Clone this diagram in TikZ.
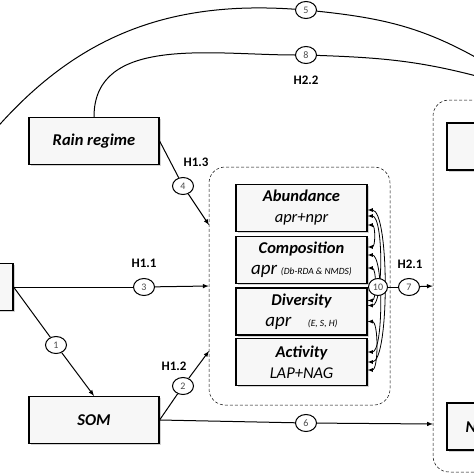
\documentclass[tikz,border=0pt]{standalone}
\usepackage{fontspec}
\setmainfont{Carlito}
\usetikzlibrary{arrows,shapes.geometric,shadows}

\begin{document}
\begin{tikzpicture}[x=1pt,y=1pt,
  box/.style={draw,line width=1.2pt,fill=gray!6,minimum width=130pt,minimum height=47pt,
    inner sep=1pt,align=center,font=\fontsize{16.5}{21}\selectfont\itshape,
    drop shadow={shadow xshift=1.5pt,shadow yshift=-1.5pt,opacity=0.35}},
  num/.style={ellipse,draw,line width=1pt,fill=white,minimum width=21pt,minimum height=17pt,
    inner sep=0pt,font=\fontsize{10}{10}\selectfont,text=black!70},
  hyp/.style={font=\fontsize{13}{13}\selectfont\bfseries},
  group/.style={draw,densely dashed,line width=0.5pt,rounded corners=16pt},
  link/.style={line width=1pt},
  corr/.style={<->,>=latex,line width=0.8pt}]
\useasboundingbox (0,0) rectangle (474,-474);
\clip (0,0) rectangle (474,-474);

% dashed groups
\node[group,minimum width=181pt,minimum height=238pt] (Mid) at (299.5,-286) {};
\node[group,minimum width=140pt,minimum height=372pt] (Out) at (503,-286) {};

% boxes
\node[box] (Rain) at (94,-141) {\textbf{Rain regime}};
\node[box] (Left) at (-52,-287) {};
\node[box] (SOM) at (94,-420) {\textbf{SOM}};

\node[box,minimum width=131pt] (Ab) at (301.5,-208) {\textbf{Abundance}\\apr+npr};
\node[box,minimum width=131pt] (Co) at (301.5,-260) {\textbf{Composition}\\{\fontsize{19}{19}\selectfont apr} {\fontsize{9.5}{9.5}\selectfont (Db-RDA \& NMDS)}};
\node[box,minimum width=131pt] (Di) at (301.5,-311.5) {\textbf{Diversity}\\{\fontsize{19}{19}\selectfont apr}\quad{\fontsize{9.5}{9.5}\selectfont (E, S, H)}};
\node[box,minimum width=131pt] (Act) at (301.5,-362) {\textbf{Activity}\\LAP+NAG};

\node[box] (Top) at (512,-146.5) {};
\node[box] (Bot) at (512,-426.5) {};
\node[font=\fontsize{16.5}{21}\selectfont\bfseries\itshape,anchor=west] at (462,-427) {N};

% numbered paths
\node[num] (c1) at (56,-345) {1};
\node[num] (c2) at (183,-386) {2};
\node[num] (c3) at (144,-287) {3};
\node[num] (c4) at (183,-186) {4};
\node[num] (c5) at (306,-10) {5};
\node[num] (c6) at (306,-423) {6};
\node[num] (c7) at (409,-287) {7};
\node[num] (c8) at (306,-55) {8};

\coordinate (m1) at (209,-225);
\coordinate (m2) at (209,-351);
\coordinate (o6) at (433,-424);
\coordinate (s5) at (-12,-138);
\coordinate (e5) at (484,-62);
\coordinate (e8) at (484,-78);

\draw[link] (Left.east) -- (c3);
\draw[link] (Left.east) -- (c1);
\draw[link] (Rain.east) -- (c4);
\draw[link] (SOM.east) -- (c2);
\draw[link] (SOM.east) -- (c6);

\path[->,>=latex,link] (c3) edge (Mid.west);
\path[->,>=latex,link] (c1) edge (SOM.north);
\path[->,>=latex,link] (c4) edge (m1);
\path[->,>=latex,link] (c2) edge (m2);
\path[->,>=latex,link] (c6) edge (o6);
\path[->,>=latex,link] (c7) edge (Out.west);

\draw[link] (s5) to[out=50,in=176] (c5);
\draw[link] (c5) to[out=-6,in=150] (e5);
\draw[link] (Rain.north) to[out=90,in=180] (c8);
\draw[link] (c8) to[out=-2,in=165] (e8);

% links among the four
\draw[corr] ([yshift=-17pt]Ab.east) to[out=0,in=0,distance=8pt] ([yshift=13pt]Co.east);
\draw[corr] ([yshift=-8pt]Ab.east) to[out=0,in=0,distance=16pt] ([yshift=6pt]Di.east);
\draw[corr] ([yshift=-2pt]Ab.east) to[out=0,in=0,distance=22pt] (Act.east);
\draw[corr] ([yshift=-8pt]Co.east) to[out=0,in=0,distance=9pt] ([yshift=11pt]Di.east);
\draw[corr] ([yshift=5pt]Co.east) to[out=0,in=0,distance=16pt] ([yshift=10pt]Act.east);
\draw[corr] ([yshift=-10pt]Di.east) to[out=0,in=0,distance=11pt] ([yshift=-8pt]Act.east);

\node[num,minimum width=19pt] (c10) at (378,-287) {10};
\draw[link] (c10) -- (c7);

\node[hyp] at (306,-80) {H2.2};
\node[hyp] at (196,-162) {H1.3};
\node[hyp] at (144,-263) {H1.1};
\node[hyp] at (174,-366) {H1.2};
\node[hyp] at (410,-264) {H2.1};
\end{tikzpicture}
\end{document}
